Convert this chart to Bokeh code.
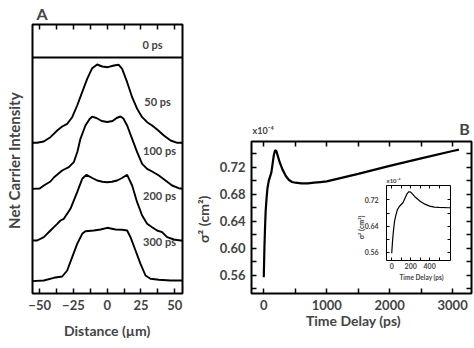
import math
from bokeh.plotting import figure
from bokeh.layouts import column
from bokeh.models import Range1d, LinearAxis, FixedTicker, Label, GridBox, PrintfTickFormatter
from bokeh.embed import file_html
from bokeh.resources import INLINE

FONT = "Lato"

# ---------------- Panel A: stacked carrier profiles ----------------
x_0ps = [-57, 57]
y_0ps = [236, 236]

x_50ps = [-57, -52, -47, -42, -37, -33.3, -29.6, -25.9, -22.2, -18.5, -14.8, -11.1, -7.4, -3.7,
          0.5, 5, 8.6, 11.1, 14.8, 18.5, 22.2, 25.9, 29.6, 33.3, 37, 42, 47, 52, 57]
y_50ps = [150.7, 150.7, 152, 156.3, 163, 167, 169.7, 176.3, 188, 201.3, 214.7, 225.3, 229, 227,
          226.3, 228, 228.7, 224.7, 211.3, 196.3, 184.7, 176.3, 171.3, 168, 164, 158, 153, 150.7, 150.7]

x_100ps = [-57, -50, -46.9, -42, -39.5, -36, -33.3, -28.4, -24.7, -22, -19.8, -16.1, -13, -11.1, -8,
           -4, 0, 4, 7, 9.9, 12, 14.8, 18.5, 22.2, 25.9, 29.6, 33.3, 38.3, 43.2, 48.1, 53, 57]
y_100ps = [104.5, 105, 108, 112, 116, 120, 123, 126.3, 131.3, 142, 154.7, 168, 174.5, 176.8, 175.5,
           172.5, 171.5, 172.5, 175.5, 177, 175, 168, 154.7, 141.3, 129.7, 124.7, 122, 118, 113, 108, 105.3, 104.7]

x_200ps = [-57, -51.9, -46.9, -42, -37, -34.6, -32.1, -27.2, -22.2, -18.5, -15.3, -11, -7.4, -3.5, 0,
           3.5, 7.4, 11, 14.8, 18.5, 22.2, 25.9, 29.6, 33.3, 37, 40.7, 44.4, 49.4, 54.3, 57]
y_200ps = [53, 53, 56.3, 63, 69.7, 73, 74.7, 84.7, 101.3, 114.7, 118.7, 115.5, 113, 111.8, 111.3,
           111.8, 113, 115.5, 118.7, 108, 91.3, 78, 69.7, 66.3, 63, 61.3, 56.3, 54, 53, 53]

x_300ps = [-57, -46.9, -39.5, -33.3, -29.6, -25.9, -22.2, -18.5, -16.1, -12, -9.9, -4.9, 0, 6.2,
           11.1, 14.8, 17.3, 21, 24.7, 28.4, 32.1, 38.3, 46.9, 57]
y_300ps = [12.3, 13, 15.7, 17, 23, 36.3, 49.7, 59.7, 62.3, 62.8, 63, 64, 65.7, 64,
           63.7, 63, 56.3, 43, 29.7, 18, 14.7, 13.7, 13, 13]

profile_labels = ["0 ps", "50 ps", "100 ps", "200 ps", "300 ps"]
distance_ticks = [-50, -25, 0, 25, 50]
distance_minor = [-37.5, -12.5, 12.5, 37.5]

# ---------------- Panel B: variance vs time delay ----------------
time_ps = [0, 10, 20, 30, 45, 60, 80, 100, 120, 140, 160, 180, 200, 225, 250, 275, 300, 350, 400,
           450, 500, 600, 700, 800, 900, 1000, 1500, 2000, 2500, 3000, 3100]
sigma2 = [0.557, 0.600, 0.630, 0.655, 0.675, 0.690, 0.700, 0.706, 0.712, 0.725, 0.738, 0.745, 0.744,
          0.736, 0.728, 0.722, 0.716, 0.707, 0.701, 0.698, 0.697, 0.696, 0.696, 0.697, 0.698, 0.699,
          0.710, 0.722, 0.733, 0.744, 0.746]
time_ticks = [0, 1000, 2000, 3000]
time_minor = [500, 1500, 2500]
sigma_ticks = [0.56, 0.60, 0.64, 0.68, 0.72]
sigma_minor = [0.54, 0.58, 0.62, 0.66, 0.70, 0.74]
inset_time_ticks = [0, 200, 400]
inset_time_minor = [100, 300, 500]
inset_sigma_ticks = [0.56, 0.64, 0.72]
inset_sigma_minor = [0.60, 0.68]


def style_axis(ax, size="13px", tick=5, lw=1.5):
    ax.axis_line_color = None
    ax.major_tick_in = tick
    ax.major_tick_out = 0
    ax.minor_tick_in = tick
    ax.minor_tick_out = 0
    ax.major_tick_line_width = lw
    ax.minor_tick_line_width = lw
    ax.major_label_text_font = FONT
    ax.major_label_text_font_style = "bold"
    ax.major_label_text_font_size = size


def mirror(p, ticker, side, tick=5, lw=1.5):
    ax = LinearAxis(ticker=ticker, axis_label=None)
    style_axis(ax, size="1px", tick=tick, lw=lw)
    ax.major_label_text_color = None
    ax.major_label_standoff = 0
    p.add_layout(ax, side)
    return ax


def base_fig(w, h, xr, yr, l, r, t, b, olw=2):
    p = figure(width=w, height=h, x_range=xr, y_range=yr, output_backend="svg",
               toolbar_location=None, min_border_left=l, min_border_right=r,
               min_border_top=t, min_border_bottom=b)
    p.grid.visible = False
    p.outline_line_color = "black"
    p.outline_line_width = olw
    p.outline_line_alpha = 1
    p.background_fill_color = "white"
    return p


# ---- Panel A ----
pA = base_fig(190, 348, Range1d(-55.3, 55.8), Range1d(0, 269), 32, 8, 24, 55)
for xs, ys in [(x_0ps, y_0ps), (x_50ps, y_50ps), (x_100ps, y_100ps), (x_200ps, y_200ps), (x_300ps, y_300ps)]:
    pA.line(xs, ys, line_color="black", line_width=1.9)

tA = FixedTicker(ticks=distance_ticks, minor_ticks=distance_minor)
xa = pA.xaxis[0]
xa.ticker = tA
style_axis(xa)
xa.major_label_standoff = 6
pA.yaxis.visible = False
mirror(pA, tA, "above")

label_pos = [(33.6, 249), (37.3, 192), (38.8, 143), (38.8, 98.5), (38.8, 52)]
for (lx, ly), txt in zip(label_pos, profile_labels):
    pA.add_layout(Label(x=lx, y=ly, text=txt, text_font=FONT, text_font_style="bold",
                        text_font_size="11px", text_align="center", text_baseline="middle"))

# ---- Panel B ----
pB = base_fig(284, 348, Range1d(-195, 3300), Range1d(0.533, 0.758), 61, 3, 141, 55)
pB.line(time_ps, sigma2, line_color="black", line_width=2.2)
tBx = FixedTicker(ticks=time_ticks, minor_ticks=time_minor)
tBy = FixedTicker(ticks=sigma_ticks, minor_ticks=sigma_minor)
bx = pB.xaxis[0]
bx.ticker = tBx
style_axis(bx)
bx.major_label_standoff = 6
by = pB.yaxis[0]
by.ticker = tBy
by.formatter = PrintfTickFormatter(format="%.2f")
style_axis(by)
by.major_label_standoff = 6
mirror(pB, tBx, "above")
mirror(pB, tBy, "right")

# ---- Inset ----
pI = base_fig(110, 120, Range1d(-55, 620), Range1d(0.535, 0.764), 41, 5, 15, 30, olw=1)
pI.border_fill_alpha = 0
pI.line(time_ps, sigma2, line_color="black", line_width=1.2)
tIx = FixedTicker(ticks=inset_time_ticks, minor_ticks=inset_time_minor)
tIy = FixedTicker(ticks=inset_sigma_ticks, minor_ticks=inset_sigma_minor)
ix = pI.xaxis[0]
ix.ticker = tIx
style_axis(ix, size="7px", tick=3, lw=1)
ix.major_label_standoff = 2
iy = pI.yaxis[0]
iy.ticker = tIy
iy.formatter = PrintfTickFormatter(format="%.2f")
style_axis(iy, size="7px", tick=3, lw=1)
iy.major_label_standoff = 8
mirror(pI, tIx, "above", tick=3, lw=1)
mirror(pI, tIy, "right", tick=3, lw=1)

# ---- Overlay for texts outside the plot frames (pixel coordinates of the page) ----
pO = figure(width=474, height=348, x_range=Range1d(0, 474), y_range=Range1d(348, 0),
            output_backend="svg", toolbar_location=None, x_axis_type=None, y_axis_type=None,
            min_border_left=0, min_border_right=0, min_border_top=0, min_border_bottom=0)
pO.grid.visible = False
pO.outline_line_color = None
pO.background_fill_alpha = 0
pO.border_fill_alpha = 0


def txt(x, y, s, size, align="center", angle=0.0):
    pO.add_layout(Label(x=x, y=y, text=s, text_font=FONT, text_font_style="bold",
                        text_font_size=size, text_align=align, text_baseline="middle",
                        angle=angle))


txt(41.5, 12.5, "A", "16px")
txt(13, 160, "Net Carrier Intensity", "15px", angle=math.pi / 2)
txt(106.7, 330, "Distance (µm)", "14px")
txt(203, 219, "σ² (cm²)", "14px", angle=math.pi / 2)
txt(353, 320, "Time Delay (ps)", "14px")
txt(252, 130, "x10⁻⁴", "9px", align="left")
txt(464, 128, "B", "16px")
txt(386, 180, "x10⁻⁴", "6px", align="left")
txt(360, 227, "σ² (cm²)", "7px", angle=math.pi / 2)
txt(421, 277, "Time Delay (ps)", "6.5px")

grid = GridBox(children=[(column(pA), 0, 0, 3, 1), (column(pB), 0, 1, 3, 3),
                         (column(pI), 1, 2, 1, 1), (column(pO), 0, 0, 3, 4)],
               cols=["190px", "155px", "110px", "19px"], rows=["170px", "120px", "58px"])

open("out.html", "w").write(file_html(grid, INLINE))
